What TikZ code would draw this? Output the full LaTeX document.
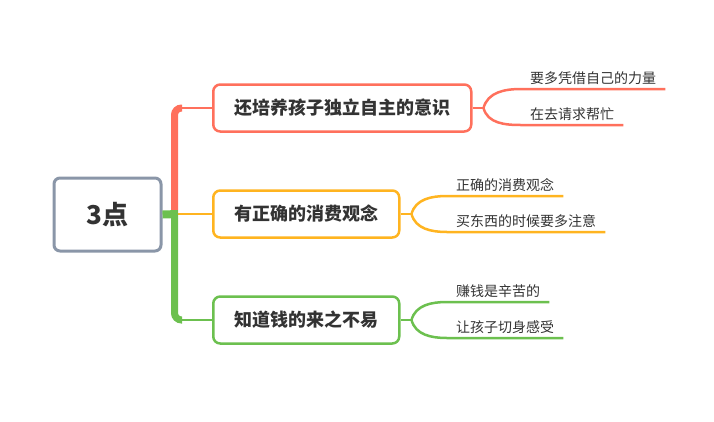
\documentclass[tikz,border=0pt]{standalone}
\usepackage{fontspec}
\setmainfont{Noto Sans CJK SC}
\usepackage{xcolor}
\usepackage{tikz}
\definecolor{redbr}{HTML}{FF705C}
\definecolor{orangebr}{HTML}{FFB420}
\definecolor{greenbr}{HTML}{6CC04F}
\definecolor{graybr}{HTML}{8A96A8}
\definecolor{txt}{HTML}{333333}

\begin{document}
\begin{tikzpicture}[x=1pt,y=-1pt,
rootcell/.style={draw=graybr,line width=3,rounded corners=6,fill=white,minimum width=107,minimum height=73,text=txt,font=\fontsize{26}{26}\selectfont\bfseries},
topic/.style={line width=2.5,rounded corners=7,fill=white,minimum height=47,inner xsep=21,anchor=west,text=txt,font=\fontsize{18}{18}\selectfont\bfseries},
leaf/.style={anchor=south west,inner xsep=9,inner ysep=4,text=txt,font=\fontsize{14}{14}\selectfont},
thinbr/.style={line width=2.5}
]
\useasboundingbox (0,0) rectangle (714,421);

\node[rootcell](root) at (107.5,214.5) {3点};

\node[topic,draw=redbr](ta) at (212,108) {还培养孩子独立自主的意识};
\node[topic,draw=orangebr](tb) at (212,214) {有正确的消费观念};
\node[topic,draw=greenbr](tc) at (212,320) {知道钱的来之不易};

\node[leaf](la) at (521,89) {要多凭借自己的力量};
\node[leaf](lb) at (521,125) {在去请求帮忙};
\node[leaf](lc) at (447,196) {正确的消费观念};
\node[leaf](ld) at (447,232) {买东西的时候要多注意};
\node[leaf](le) at (447,302) {赚钱是辛苦的};
\node[leaf](lf) at (447,338) {让孩子切身感受};

\coordinate (fork) at (174.5,214);

\draw[redbr,line width=7,rounded corners=7] (fork) |- ([xshift=-30]ta.west);
\draw[redbr,thinbr] ([xshift=-34]ta.west) -- (ta.west);
\draw[orangebr,thinbr] (fork) -- (tb.west);
\draw[greenbr,line width=7,rounded corners=7] ([yshift=-4]fork) |- ([xshift=-30]tc.west);
\draw[greenbr,thinbr] ([xshift=-34]tc.west) -- (tc.west);
\draw[greenbr,line width=8] (root.east) -- ([xshift=3.5]fork);

\draw[redbr,thinbr] (ta.east) -- ++(11,0) coordinate (sa);
\draw[redbr,thinbr] (sa) to[out=75,in=180] (la.south west) -- (la.south east);
\draw[redbr,thinbr] (sa) to[out=-75,in=180] (lb.south west) -- (lb.south east);

\draw[orangebr,thinbr] (tb.east) -- ++(11,0) coordinate (sb);
\draw[orangebr,thinbr] (sb) to[out=75,in=180] (lc.south west) -- (lc.south east);
\draw[orangebr,thinbr] (sb) to[out=-75,in=180] (ld.south west) -- (ld.south east);

\draw[greenbr,thinbr] (tc.east) -- ++(11,0) coordinate (sc);
\draw[greenbr,thinbr] (sc) to[out=75,in=180] (le.south west) -- (le.south east);
\draw[greenbr,thinbr] (sc) to[out=-75,in=180] (lf.south west) -- (lf.south east);

\end{tikzpicture}
\end{document}
